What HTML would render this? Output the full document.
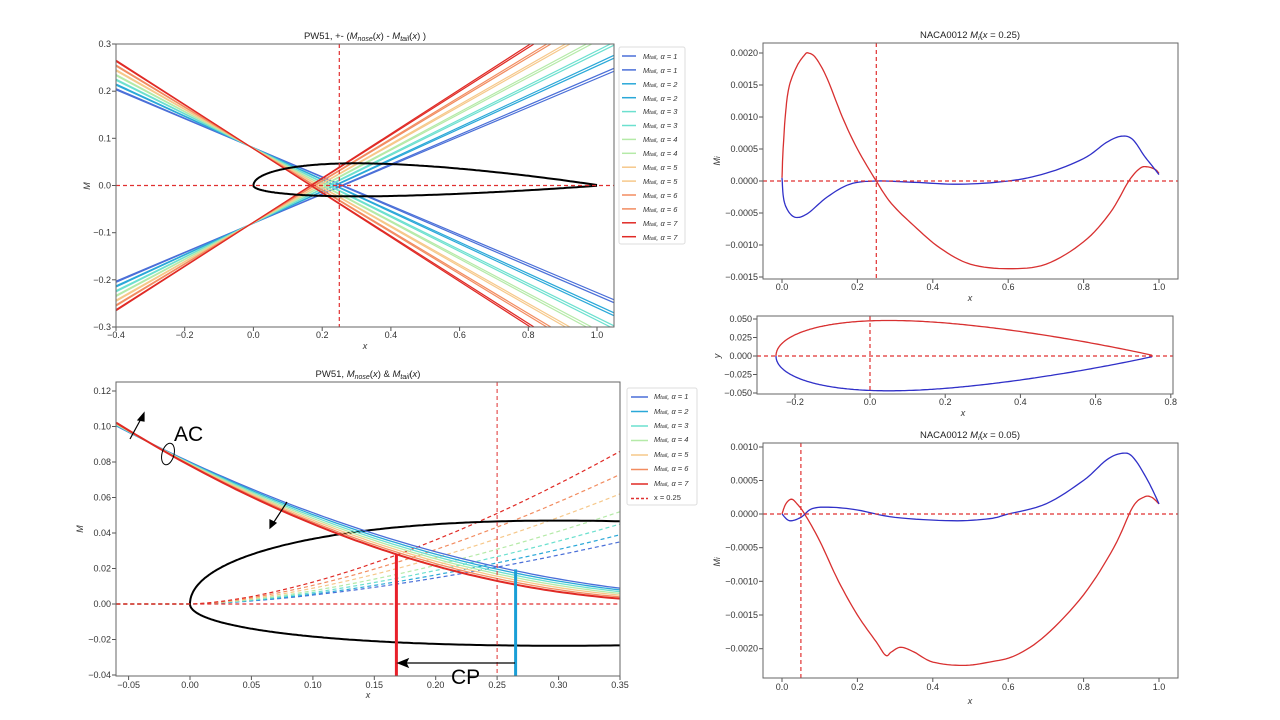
<!DOCTYPE html>
<html><head><meta charset="utf-8"><style>
html,body{margin:0;padding:0;background:#fff;}
svg{display:block;font-family:"Liberation Sans","DejaVu Sans",sans-serif;}
.t{font-size:9px;fill:#333;}
.ti{font-size:9.5px;fill:#222;}
</style></head><body>
<svg id="s" width="1280" height="720" viewBox="0 0 1280 720" xmlns="http://www.w3.org/2000/svg">
<rect width="1280" height="720" fill="#fff"/>
<g id="g"></g>
<g fill="none" stroke="#666" stroke-width="1">
<rect x="116" y="44" width="498" height="283"/>
<rect x="116" y="382" width="504" height="294"/>
<rect x="763" y="43" width="415" height="236"/>
<rect x="757" y="316" width="416" height="78"/>
<rect x="763" y="443" width="415" height="235"/>
</g>
<text class="ti" x="365" y="39" text-anchor="middle">PW51, +- (<tspan font-style="italic">M</tspan><tspan font-size="7" dy="2" font-style="italic">nose</tspan><tspan dy="-2">(</tspan><tspan font-style="italic">x</tspan>) - <tspan font-style="italic">M</tspan><tspan font-size="7" dy="2" font-style="italic">tail</tspan><tspan dy="-2">(</tspan><tspan font-style="italic">x</tspan>) )</text>
<text class="ti" x="368" y="377" text-anchor="middle">PW51, <tspan font-style="italic">M</tspan><tspan font-size="7" dy="2" font-style="italic">nose</tspan><tspan dy="-2">(</tspan><tspan font-style="italic">x</tspan>) &amp; <tspan font-style="italic">M</tspan><tspan font-size="7" dy="2" font-style="italic">tail</tspan><tspan dy="-2">(</tspan><tspan font-style="italic">x</tspan>)</text>
<text class="ti" x="970" y="38" text-anchor="middle">NACA0012 <tspan font-style="italic">M</tspan><tspan font-size="7" dy="2" font-style="italic">i</tspan><tspan dy="-2">(</tspan><tspan font-style="italic">x</tspan> = 0.25)</text>
<text class="ti" x="970" y="438" text-anchor="middle">NACA0012 <tspan font-style="italic">M</tspan><tspan font-size="7" dy="2" font-style="italic">i</tspan><tspan dy="-2">(</tspan><tspan font-style="italic">x</tspan> = 0.05)</text>
<g class="t" font-style="italic" text-anchor="middle">
<text x="365" y="349">x</text><text x="368" y="698">x</text><text x="970" y="301">x</text><text x="963" y="416">x</text><text x="970" y="704">x</text>
<text transform="translate(90,186) rotate(-90)">M</text>
<text transform="translate(83,529) rotate(-90)">M</text>
<text transform="translate(720,161) rotate(-90)">M<tspan font-size="7">i</tspan></text>
<text transform="translate(720,356) rotate(-90)">y</text>
<text transform="translate(720,562) rotate(-90)">M<tspan font-size="7">i</tspan></text>
</g>
<g class="t" text-anchor="middle">
<text x="116" y="338">−0.4</text><text x="184.7" y="338">−0.2</text><text x="253.4" y="338">0.0</text><text x="322.2" y="338">0.2</text><text x="390.9" y="338">0.4</text><text x="459.6" y="338">0.6</text><text x="528.3" y="338">0.8</text><text x="597" y="338">1.0</text>
<text x="128.6" y="688">−0.05</text><text x="190" y="688">0.00</text><text x="251.4" y="688">0.05</text><text x="312.9" y="688">0.10</text><text x="374.3" y="688">0.15</text><text x="435.7" y="688">0.20</text><text x="497.1" y="688">0.25</text><text x="558.6" y="688">0.30</text><text x="620" y="688">0.35</text>
<text x="782" y="290">0.0</text><text x="857.4" y="290">0.2</text><text x="932.8" y="290">0.4</text><text x="1008.2" y="290">0.6</text><text x="1083.6" y="290">0.8</text><text x="1159" y="290">1.0</text>
<text x="795" y="405">−0.2</text><text x="870" y="405">0.0</text><text x="945.2" y="405">0.2</text><text x="1020.4" y="405">0.4</text><text x="1095.6" y="405">0.6</text><text x="1170.8" y="405">0.8</text>
<text x="782" y="690">0.0</text><text x="857.4" y="690">0.2</text><text x="932.8" y="690">0.4</text><text x="1008.2" y="690">0.6</text><text x="1083.6" y="690">0.8</text><text x="1159" y="690">1.0</text>
</g>
<g class="t" text-anchor="end">
<text x="111" y="47">0.3</text><text x="111" y="94.2">0.2</text><text x="111" y="141.3">0.1</text><text x="111" y="188.5">0.0</text><text x="111" y="235.7">−0.1</text><text x="111" y="282.8">−0.2</text><text x="111" y="330">−0.3</text>
<text x="111" y="394">0.12</text><text x="111" y="429.5">0.10</text><text x="111" y="465">0.08</text><text x="111" y="500.5">0.06</text><text x="111" y="536">0.04</text><text x="111" y="571.5">0.02</text><text x="111" y="607">0.00</text><text x="111" y="642.5">−0.02</text><text x="111" y="678">−0.04</text>
<text x="758" y="56">0.0020</text><text x="758" y="88">0.0015</text><text x="758" y="120">0.0010</text><text x="758" y="152">0.0005</text><text x="758" y="184">0.0000</text><text x="758" y="216">−0.0005</text><text x="758" y="248">−0.0010</text><text x="758" y="280">−0.0015</text>
<text x="752" y="322">0.050</text><text x="752" y="340.5">0.025</text><text x="752" y="359">0.000</text><text x="752" y="377.5">−0.025</text><text x="752" y="396">−0.050</text>
<text x="758" y="450">0.0010</text><text x="758" y="483.5">0.0005</text><text x="758" y="517">0.0000</text><text x="758" y="550.7">−0.0005</text><text x="758" y="584.3">−0.0010</text><text x="758" y="618">−0.0015</text><text x="758" y="651.7">−0.0020</text>
</g>
<rect x="619" y="47" width="66" height="197" fill="#fff" stroke="#ddd" rx="2"/>
<rect x="627" y="388" width="70" height="117" fill="#fff" stroke="#ddd" rx="2"/>
<g id="leg"></g>
<g font-size="7.5" fill="#333" font-style="italic">
<text x="643" y="59">M<tspan font-size="5.5">tail</tspan>, α = 1</text>
<text x="643" y="73">M<tspan font-size="5.5">tail</tspan>, α = 1</text>
<text x="643" y="87">M<tspan font-size="5.5">tail</tspan>, α = 2</text>
<text x="643" y="101">M<tspan font-size="5.5">tail</tspan>, α = 2</text>
<text x="643" y="114">M<tspan font-size="5.5">tail</tspan>, α = 3</text>
<text x="643" y="128">M<tspan font-size="5.5">tail</tspan>, α = 3</text>
<text x="643" y="142">M<tspan font-size="5.5">tail</tspan>, α = 4</text>
<text x="643" y="156">M<tspan font-size="5.5">tail</tspan>, α = 4</text>
<text x="643" y="170">M<tspan font-size="5.5">tail</tspan>, α = 5</text>
<text x="643" y="184">M<tspan font-size="5.5">tail</tspan>, α = 5</text>
<text x="643" y="198">M<tspan font-size="5.5">tail</tspan>, α = 6</text>
<text x="643" y="212">M<tspan font-size="5.5">tail</tspan>, α = 6</text>
<text x="643" y="226">M<tspan font-size="5.5">tail</tspan>, α = 7</text>
<text x="643" y="240">M<tspan font-size="5.5">tail</tspan>, α = 7</text>
<text x="654" y="399">M<tspan font-size="5.5">tail</tspan>, α = 1</text>
<text x="654" y="414">M<tspan font-size="5.5">tail</tspan>, α = 2</text>
<text x="654" y="428">M<tspan font-size="5.5">tail</tspan>, α = 3</text>
<text x="654" y="442">M<tspan font-size="5.5">tail</tspan>, α = 4</text>
<text x="654" y="457">M<tspan font-size="5.5">tail</tspan>, α = 5</text>
<text x="654" y="471">M<tspan font-size="5.5">tail</tspan>, α = 6</text>
<text x="654" y="486">M<tspan font-size="5.5">tail</tspan>, α = 7</text>
<text x="654" y="500" font-style="normal">x = 0.25</text>
</g>
<text x="174" y="441" font-size="21" fill="#000">AC</text>
<text x="451" y="684" font-size="21" fill="#000">CP</text>
<ellipse cx="168" cy="454" rx="6" ry="11" transform="rotate(15 168 454)" fill="none" stroke="#000" stroke-width="1"/>
<g stroke="#000" stroke-width="1.2" fill="#000">
<line x1="130" y1="439" x2="142" y2="417"/><polygon points="144,413 138,420 144,421"/>
<line x1="287" y1="502" x2="272" y2="525"/><polygon points="270,528 270,520 276,523"/>
<line x1="515" y1="663" x2="402" y2="663"/><polygon points="398,663 408,659 406,663 408,667"/>
</g>
</svg>
<script>
const NS="http://www.w3.org/2000/svg",G=document.getElementById('g'),L=document.getElementById('leg');
function add(par,tag,at){const e=document.createElementNS(NS,tag);for(const k in at)e.setAttribute(k,at[k]);par.appendChild(e);return e;}
function pl(pts,st,par){add(par||G,'polyline',Object.assign({points:pts.map(p=>p[0].toFixed(1)+','+p[1].toFixed(1)).join(' '),fill:'none'},st));}
function cr(pts,n){const o=[];for(let i=0;i<pts.length-1;i++){const p0=pts[Math.max(0,i-1)],p1=pts[i],p2=pts[i+1],p3=pts[Math.min(pts.length-1,i+2)];for(let k=0;k<n;k++){const t=k/n,t2=t*t,t3=t2*t;o.push([0,1].map(j=>0.5*((2*p1[j])+(-p0[j]+p2[j])*t+(2*p0[j]-5*p1[j]+4*p2[j]-p3[j])*t2+(-p0[j]+3*p1[j]-3*p2[j]+p3[j])*t3)));}}o.push(pts[pts.length-1]);return o;}
const th=x=>x<=0?0:(0.2969*Math.sqrt(x)-0.126*x-0.3516*x*x+0.2843*x**3-0.1015*x**4)/0.1;
const cols=['#4a6fd8','#2aa8d8','#6ce0cf','#b5eaa8','#f6c88a','#f28c60','#e02a25'];
const RED='#e03030',dash={stroke:RED,'stroke-width':1.2,'stroke-dasharray':'4,3'};
function tick(x1,y1,x2,y2){add(G,'line',{x1,y1,x2,y2,stroke:'#555','stroke-width':1});}
[116,184.7,253.4,322.2,390.9,459.6,528.3,597].forEach(x=>tick(x,327,x,331));
[44,91.2,138.3,185.5,232.7,279.8,327].forEach(y=>tick(112,y,116,y));
[128.6,190,251.4,312.9,374.3,435.7,497.1,558.6,620].forEach(x=>tick(x,676,x,680));
[391,426.5,462,497.5,533,568.5,604,639.5,675].forEach(y=>tick(112,y,116,y));
[782,857.4,932.8,1008.2,1083.6,1159].forEach(x=>{tick(x,279,x,283);tick(x,678,x,682);});
[795,870,945.2,1020.4,1095.6,1170.8].forEach(x=>tick(x,394,x,398));
[53,85,117,149,181,213,245,277].forEach(y=>tick(759,y,763,y));
[319,337.5,356,374.5,393].forEach(y=>tick(753,y,757,y));
[447,480.5,514,547.7,581.3,615,648.7].forEach(y=>tick(759,y,763,y));
function clip(id,x,y,w,h){const c=add(G,'clipPath',{id});add(c,'rect',{x,y,width:w,height:h});return add(G,'g',{'clip-path':'url(#'+id+')'});}
{const X=x=>116+(x+0.4)*343.6,Y=m=>185.5-m*471.7,g=clip('c1',116,44,498,283);
for(let a=0;a<7;a++)for(let r=0;r<2;r++){const s=-(0.307+(0.463-0.307)*a/6)-r*0.006,i=0.08-0.002*a/6;
 const x0=-0.4,x1=1.05;pl([[X(x0),Y(i+s*x0)],[X(x1),Y(i+s*x1)]],{stroke:cols[a],'stroke-width':1.2},g);
 pl([[X(x0),Y(-(i+s*x0))],[X(x1),Y(-(i+s*x1))]],{stroke:cols[a],'stroke-width':1.2},g);}
const up=[],lo=[];for(let k=0;k<=200;k++){const x=(k/200)**2;up.push([X(x),Y(0.047*th(x))]);lo.push([X(x),Y(-0.023*th(x))]);}
pl(up.reverse().concat(lo),{stroke:'#000','stroke-width':2},g);
pl([[X(-0.4),Y(0)],[X(1.05),Y(0)]],dash,g);pl([[X(0.25),44],[X(0.25),327]],dash,g);}
{const X=x=>190+x*1228.6,Y=m=>604-1775*m,g=clip('c2',116,382,504,294);
const ends=[0.035,0.039,0.045,0.052,0.062,0.073,0.086];
for(let a=0;a<7;a++){const p=[];for(let k=0;k<=80;k++){const x=-0.06+0.41*k/80;p.push([X(x),Y(x<=0?0:ends[a]*Math.pow(x/0.35,1.55))]);}pl(p,{stroke:cols[a],'stroke-width':1.2,'stroke-dasharray':'4,3'},g);}
const up=[],lo=[];for(let k=0;k<=200;k++){const x=0.36*(k/200)**2;up.push([X(x),Y(0.047*th(x))]);lo.push([X(x),Y(-0.0235*th(x))]);}
pl(up.reverse().concat(lo),{stroke:'#000','stroke-width':2},g);
for(let a=0;a<7;a++){const f=a/6,A=0.080-0.002*f,B=-0.319+(-0.3745+0.319)*f,C=0.331+(0.458-0.331)*f,p=[];
 for(let k=0;k<=80;k++){const x=-0.06+0.41*k/80;p.push([X(x),Y(A+B*x+C*x*x)]);}pl(p,{stroke:cols[a],'stroke-width':a==6?2:1.3},g);}
pl([[X(-0.06),Y(0)],[X(0.35),Y(0)]],dash,g);pl([[X(0.25),382],[X(0.25),676]],{stroke:RED,'stroke-width':1,'stroke-dasharray':'4,3'},g);
pl([[X(0.168),Y(0.028)],[X(0.168),676]],{stroke:'#e8202a','stroke-width':3},g);
pl([[X(0.265),Y(0.0195)],[X(0.265),676]],{stroke:'#1a9ed6','stroke-width':3},g);}
function plotR(X,Y,red,blue,g){pl(cr(red.map(p=>[X(p[0]),Y(p[1])]),8),{stroke:'#d83030','stroke-width':1.3},g);pl(cr(blue.map(p=>[X(p[0]),Y(p[1])]),8),{stroke:'#3030c8','stroke-width':1.3},g);}
{const X=x=>782+x*377,Y=m=>181-m*64000,g=clip('c3',763,43,415,236);
plotR(X,Y,[[0,0.00005],[0.003,0.0005],[0.01,0.0011],[0.02,0.0015],[0.04,0.0018],[0.06,0.00197],[0.07,0.002],[0.09,0.00192],[0.12,0.0016],[0.16,0.001],[0.2,0.0005],[0.25,0],[0.29,-0.00035],[0.35,-0.0007],[0.42,-0.00105],[0.5,-0.0013],[0.6,-0.00137],[0.7,-0.0013],[0.8,-0.00095],[0.87,-0.0005],[0.92,0],[0.95,0.0002],[0.97,0.00022],[0.99,0.00018],[1,0.00012]],
[[0,0.00005],[0.005,-0.0003],[0.02,-0.0005],[0.04,-0.00057],[0.07,-0.0005],[0.12,-0.00025],[0.18,-0.00005],[0.25,0],[0.35,-0.00002],[0.47,-0.00005],[0.6,0],[0.7,0.00012],[0.8,0.00035],[0.86,0.0006],[0.9,0.0007],[0.93,0.00065],[0.96,0.0004],[0.98,0.00025],[1,0.0001]],g);
pl([[763,181],[1178,181]],dash,g);pl([[X(0.25),43],[X(0.25),279]],dash,g);}
{const X=x=>870+x*376,Y=y=>356-y*740,g=clip('c4',757,316,416,78),up=[],lo=[];
for(let k=0;k<=200;k++){const x=(k/200)**2;up.push([X(x-0.25),Y(0.048*th(x))]);lo.push([X(x-0.25),Y(-0.047*th(x))]);}
pl(up,{stroke:'#d83030','stroke-width':1.3},g);pl(lo,{stroke:'#3030c8','stroke-width':1.3},g);
pl([[757,356],[1173,356]],dash,g);pl([[870,316],[870,394]],dash,g);}
{const X=x=>782+x*377,Y=m=>514-m*67300,g=clip('c5',763,443,415,235);
plotR(X,Y,[[0,0],[0.01,0.00015],[0.025,0.00022],[0.04,0.00015],[0.06,0],[0.1,-0.0004],[0.15,-0.001],[0.2,-0.0015],[0.25,-0.0019],[0.275,-0.0021],[0.29,-0.00205],[0.315,-0.00198],[0.35,-0.00205],[0.4,-0.0022],[0.48,-0.00225],[0.55,-0.0022],[0.62,-0.0021],[0.7,-0.0018],[0.8,-0.0012],[0.88,-0.0005],[0.93,0.0001],[0.96,0.00025],[0.98,0.00025],[1,0.00015]],
[[0,0],[0.02,-0.0001],[0.05,-0.00005],[0.08,0.00008],[0.13,0.0001],[0.2,0.00006],[0.3,-0.00005],[0.45,-0.0001],[0.55,-0.00007],[0.6,0],[0.7,0.00015],[0.8,0.0005],[0.86,0.0008],[0.9,0.0009],[0.93,0.00085],[0.97,0.0005],[1,0.00015]],g);
pl([[763,514],[1178,514]],dash,g);pl([[X(0.05),443],[X(0.05),678]],dash,g);}
for(let i=0;i<14;i++){const y=56+i*13.9;add(L,'line',{x1:622,y1:y,x2:636,y2:y,stroke:cols[Math.floor(i/2)],'stroke-width':1.5});}
for(let i=0;i<8;i++){const y=397+i*14.5;add(L,'line',{x1:631,y1:y,x2:648,y2:y,stroke:i<7?cols[i]:RED,'stroke-width':1.5,'stroke-dasharray':i<7?'none':'3,2'});}
</script>
</body></html>
